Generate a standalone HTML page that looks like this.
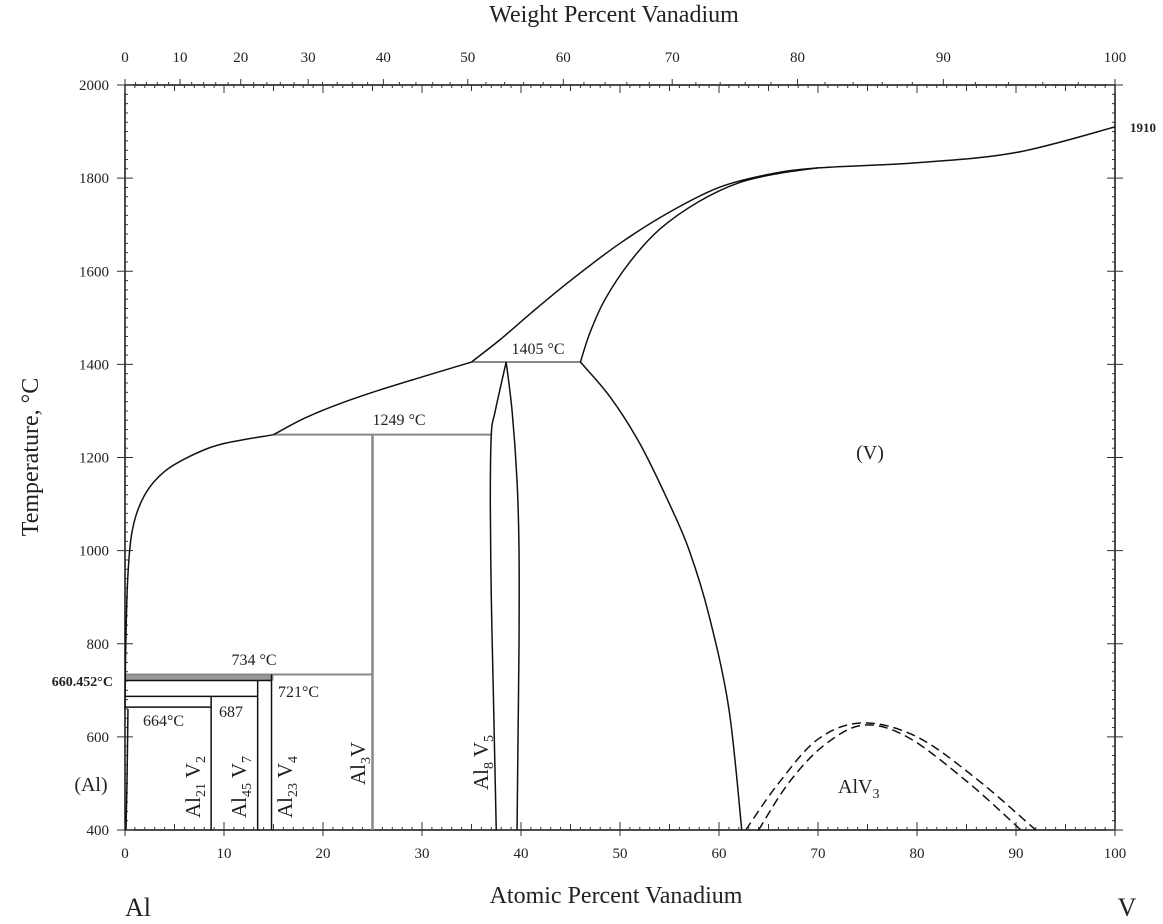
<!DOCTYPE html>
<html><head><meta charset="utf-8"><style>
body{margin:0;background:#fff;}
svg{display:block;font-family:"Liberation Serif",serif;}
</style></head><body>
<svg id="chart" width="1163" height="924" viewBox="0 0 1163 924"></svg>
<script>
const xTicks=[0,10,20,30,40,50,60,70,80,90,100];
const yTicks=[400,600,800,1000,1200,1400,1600,1800,2000];
const wtTicks=[0,10,20,30,40,50,60,70,80,90,100];
const liquidusAl=[[0,660],[0.08,800],[0.3,950],[0.8,1050],[2,1120],[4,1170],[7,1207],[10,1230],[15,1249]];
const liquidusMid=[[15,1249],[18,1283],[21,1310],[25,1340],[30,1373],[35,1405]];
const liquidusV=[[35,1405],[38,1455],[41,1510],[45,1580],[50,1660],[55,1727],[60,1780],[65,1808],[70,1822],[80,1833],[90,1855],[100,1910]];
const solidusV=[[46,1405],[47,1470],[48.5,1540],[51,1620],[54,1690],[58,1750],[62,1790],[66,1810],[70,1822]];
const solvusV=[[46,1405],[49,1330],[52,1230],[55,1100],[57,1000],[59,860],[61,660],[62.3,400]];
const al8v5Left=[[38.5,1405],[37.4,1300],[37,1249],[36.9,1100],[37,900],[37.2,700],[37.5,400]];
const al8v5Right=[[38.5,1405],[39.1,1300],[39.6,1150],[39.8,1000],[39.8,800],[39.7,600],[39.6,400]];
const domeOuter=[[62.7,400],[66,500],[70,595],[74.5,630],[80,600],[86,510],[92,400]];
const domeInner=[[64,400],[67,500],[70.5,580],[74.5,625],[79,600],[85,505],[90.5,400]];
const alSolvus=[[0.3,660],[0.2,500],[0.1,400]];
const X0=125,X1=1115,Y0=830,Y1=85;
const sx=a=>X0+(X1-X0)*a/100;
const sy=t=>Y0-(Y0-Y1)*(t-400)/1600;
const wtToAt=w=>w>=100?100:(w/50.94)/((w/50.94)+(100-w)/26.98)*100;
const svg=document.getElementById('chart');const NS='http://www.w3.org/2000/svg';
function el(tag,attrs,parent){const e=document.createElementNS(NS,tag);for(const k in attrs)e.setAttribute(k,attrs[k]);(parent||svg).appendChild(e);return e;}
function smooth(pts){const p=pts.map(d=>[sx(d[0]),sy(d[1])]);let s='M'+p[0][0]+','+p[0][1];
for(let i=0;i<p.length-1;i++){const a=p[i-1]||p[i],b=p[i],c=p[i+1],d=p[i+2]||c;
s+=' C'+(b[0]+(c[0]-a[0])/6)+','+(b[1]+(c[1]-a[1])/6)+' '+(c[0]-(d[0]-b[0])/6)+','+(c[1]-(d[1]-b[1])/6)+' '+c[0]+','+c[1];}return s;}
function curve(pts,name,extra){const e=el('path',Object.assign({d:smooth(pts),fill:'none',stroke:'#111','stroke-width':1.5},extra||{}));

}
function line(a1,t1,a2,t2,name,col,w){const e=el('line',{x1:sx(a1),y1:sy(t1),x2:sx(a2),y2:sy(t2),stroke:col||'#111','stroke-width':w||1.5});

}
function text(x,y,s,name,attrs){const e=el('text',Object.assign({x:x,y:y,'font-size':16,fill:'#222'},attrs||{}));e.innerHTML=s;

return e;}
const fr=el('rect',{x:X0,y:Y1,width:X1-X0,height:Y0-Y1,fill:'none',stroke:'#111','stroke-width':1.5});


for(let a=0;a<=100;a++){const L=a%10==0?8:(a%5==0?6:3);
el('line',{x1:sx(a),y1:Y0,x2:sx(a),y2:Y0-L,stroke:'#333','stroke-width':1});
el('line',{x1:sx(a),y1:Y1,x2:sx(a),y2:Y1+L,stroke:'#333','stroke-width':1});}
xTicks.forEach(v=>{el('line',{x1:sx(v),y1:Y0,x2:sx(v),y2:Y0+6,stroke:'#333'});text(sx(v),Y0+28,v,'x-tick-label',{'text-anchor':'middle','font-size':15});});
wtTicks.forEach(v=>{const x=sx(wtToAt(v));el('line',{x1:x,y1:Y1,x2:x,y2:Y1-6,stroke:'#333'});text(x,Y1-23,v,'top-tick-label',{'text-anchor':'middle','font-size':15});});
for(let w=0;w<100;w+=2){if(w%10){const x=sx(wtToAt(w));el('line',{x1:x,y1:Y1,x2:x,y2:Y1-3,stroke:'#333'});}}
for(let t=400;t<=2000;t+=20){const L=t%200==0?8:3;
el('line',{x1:X0,y1:sy(t),x2:X0+L,y2:sy(t),stroke:'#333'});el('line',{x1:X1,y1:sy(t),x2:X1-L,y2:sy(t),stroke:'#333'});}
yTicks.forEach(v=>{el('line',{x1:X0,y1:sy(v),x2:X0-8,y2:sy(v),stroke:'#333'});el('line',{x1:X1,y1:sy(v),x2:X1+8,y2:sy(v),stroke:'#333'});
text(X0-16,sy(v)+5,v,'y-tick-label',{'text-anchor':'end','font-size':15});});
el('rect',{x:sx(0),y:sy(734),width:sx(15)-sx(0),height:sy(721)-sy(734),fill:'#999'});
line(0,734,25,734,'eutectic-734','#888',2);
line(25,400,25,1249,'al3v-line','#888',2.5);
line(15,1249,37,1249,'peritectic-1249','#888',2);
line(35,1405,46,1405,'peritectic-1405','#888',2);
line(14.8,400,14.8,734,'al23v4-line');
line(13.4,400,13.4,721,'al45v7-line');
line(0,721,14.8,721,'peritectic-721');
line(0,687,13.4,687,'peritectic-687');
line(8.7,400,8.7,687,'al21v2-line');
line(0,664,8.7,664,'peritectic-664');
curve(alSolvus,'al-solvus');
curve(liquidusAl,'liquidus-al-side');curve(liquidusMid,'liquidus-mid');curve(liquidusV,'liquidus-v-side');
curve(solidusV,'solidus-v');curve(solvusV,'solvus-v');
curve(al8v5Left,'al8v5-left');curve(al8v5Right,'al8v5-right');
curve(domeOuter,'alv3-dome-outer',{'stroke-dasharray':'9,5'});curve(domeInner,'alv3-dome-inner',{'stroke-dasharray':'9,5'});
text(614,22,'Weight Percent Vanadium','top-axis-title',{'text-anchor':'middle','font-size':24});
text(616,903,'Atomic Percent Vanadium','x-axis-title',{'text-anchor':'middle','font-size':24});
text(38,457,'Temperature, °C','y-axis-title',{'text-anchor':'middle','font-size':24,transform:'rotate(-90 38 457)'});
text(138,916,'Al','al-label',{'text-anchor':'middle','font-size':26});
text(1127,916,'V','v-label',{'text-anchor':'middle','font-size':26});
text(1130,132,'1910','temp-1910',{'font-size':13,'font-weight':'bold'});
text(113,686,'660.452°C','temp-660',{'text-anchor':'end','font-size':14,'font-weight':'bold'});
text(538,354,'1405 °C','temp-1405',{'text-anchor':'middle'});
text(399,425,'1249 °C','temp-1249',{'text-anchor':'middle'});
text(254,665,'734 °C','temp-734',{'text-anchor':'middle'});
text(278,697,'721°C','temp-721');
text(143,726,'664°C','temp-664');
text(219,717,'687','temp-687');
text(870,459,'(V)','v-phase-label',{'text-anchor':'middle','font-size':20});
text(91,791,'(Al)','al-phase-label',{'text-anchor':'middle','font-size':20});
text(838,793,'AlV<tspan font-size="14" dy="5">3</tspan>','alv3-label',{'font-size':20});
function vlabel(x,y,main,sub,main2,sub2,name){text(x,y,main+'<tspan font-size="14" dy="5">'+sub+'</tspan><tspan dy="-5"> '+main2+'</tspan><tspan font-size="14" dy="5">'+sub2+'</tspan>',name,{'font-size':21,transform:'rotate(-90 '+x+' '+y+')'});}
vlabel(200,818,'Al','21','V','2','al21v2-label');
vlabel(246,818,'Al','45','V','7','al45v7-label');
vlabel(292,818,'Al','23','V','4','al23v4-label');
text(365,785,'Al<tspan font-size="14" dy="5">3</tspan><tspan dy="-5">V</tspan>','al3v-label',{'font-size':21,transform:'rotate(-90 365 785)'});
vlabel(488,790,'Al','8','V','5','al8v5-label');
</script>
</body></html>
